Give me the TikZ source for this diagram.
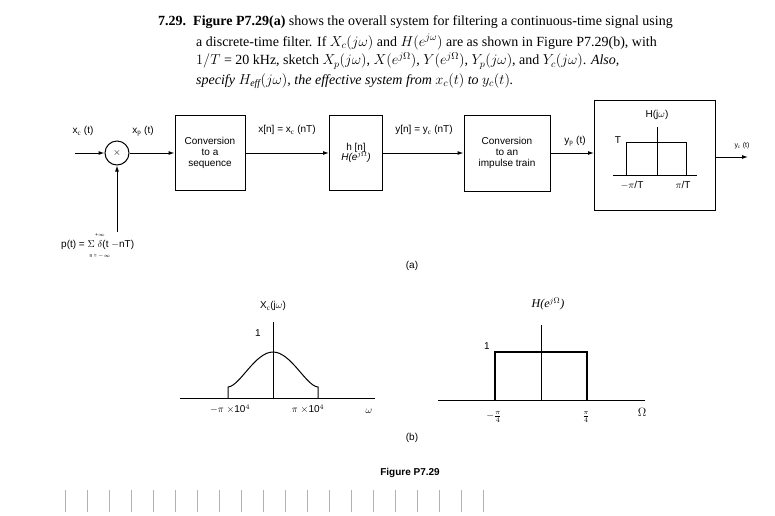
\documentclass[tikz,border=0pt]{standalone}
\usepackage{fontspec}
\setmainfont{Liberation Serif}
\setsansfont{Liberation Sans}
\usetikzlibrary{arrows.meta}
\begin{document}
\begin{tikzpicture}[x=1pt,y=-1pt,
  blk/.style={draw,line width=1pt,font=\sffamily\fontsize{10}{11}\selectfont,align=center,inner sep=0pt},
  lbl/.style={font=\sffamily\fontsize{10}{12}\selectfont,inner sep=1pt},
  sig/.style={line width=1pt,-{Latex[length=6pt,width=4pt]}},
  ax/.style={line width=0.6pt}]
\useasboundingbox (0,0) rectangle (775,515);
% header
\node[anchor=west,inner sep=0,font=\fontsize{14}{16}\selectfont] (h1) at (158,22) {\textbf{7.29.\ \ Figure P7.29(a)} shows the overall system for filtering a continuous-time signal using};
\node[anchor=west,inner sep=0,font=\fontsize{14}{16}\selectfont] (h2) at (196,42) {a discrete-time filter. If $X_c(j\omega)$ and $H(e^{j\omega})$ are as shown in Figure P7.29(b), with};
\node[anchor=west,inner sep=0,font=\fontsize{14}{16}\selectfont] (h3) at (196,61) {$1/T$ = 20 kHz, sketch $X_p(j\omega)$, $X(e^{j\Omega})$, $Y(e^{j\Omega})$, $Y_p(j\omega)$, and $Y_c(j\omega)$. \textit{Also,}};
\node[anchor=west,inner sep=0,font=\fontsize{14}{16}\selectfont\itshape] (h4) at (196,81) {specify $H_{\mathit{eff}}(j\omega)$, the effective system from $x_c(t)$ to $y_c(t)$.};
% blocks
\node[draw,circle,minimum size=24pt,inner sep=0,line width=1pt] (m) at (117,153) {$\times$};
\node[blk,minimum width=70pt,minimum height=75pt] (b1) at (210,153) {Conversion\\to a\\sequence};
\node[blk,minimum width=53pt,minimum height=75pt] (b2) at (356,153) {h [n]\\[-1pt]\itshape H(e$^{j\Omega}$)};
\node[blk,minimum width=86pt,minimum height=76pt] (b3) at (507,153) {Conversion\\to an\\impulse train};
\node[blk,minimum width=121pt,minimum height=110pt] (b4) at (655,155) {};
\coordinate (in) at (75,153);
\coordinate (out) at (748,157);
\coordinate (pb) at (117,232);
\draw[sig] (in) -- (m);
\draw[sig] (m) -- (b1);
\draw[sig] (b1) -- (b2);
\draw[sig] (b2) -- (b3);
\draw[sig] (b3.east) -- (b3.east -| b4.west);
\draw[sig] (b4.east |- out) -- (out);
\draw[sig] (pb) -- (m);
\node[lbl] (l1) at (83,131) {x$_\mathrm{c}$ (t)};
\node[lbl] (l2) at (143,131) {x$_\mathrm{p}$ (t)};
\node[lbl] (l3) at (287,130) {x[n] = x$_\mathrm{c}$ (nT)};
\node[lbl] (l4) at (424,130) {y[n] = y$_\mathrm{c}$ (nT)};
\node[lbl] (l5) at (575,141) {y$_\mathrm{p}$ (t)};
\node[lbl,font=\sffamily\scriptsize] (l6) at (742,146) {y$_\mathrm{c}$ (t)};
\node[lbl,anchor=west] (pt) at (60,245) {p(t) = $\Sigma$ $\delta$(t $-$nT)};
\node[lbl,font=\sffamily\tiny] (up) at (100,235) {+$\infty$};
\node[lbl,font=\sffamily\tiny] (lo) at (100,256) {n = $-\infty$};
% H(jw) inside box4
\draw[ax] (613,175) -- (697,175);
\draw[ax] (657,127) -- (657,175);
\draw[line width=1pt] (626,175) -- (626,142) -- (686,142) -- (686,175);
\node[lbl] (hj) at (657,115) {H(j$\omega$)};
\node[lbl] (tt) at (618,140) {T};
\node[lbl] (m1) at (632,185) {$-\pi$/T};
\node[lbl] (m2) at (683,185) {$\pi$/T};
\node[lbl] (a) at (412,266) {(a)};
% left plot
\draw[ax] (180,398) -- (375,398);
\draw[ax] (273,322) -- (273,398);
\draw[line width=1pt] (228,398) -- (228,387) .. controls (240,386) and (255,352) .. (273,352) .. controls (291,352) and (306,386) .. (318,387) -- (318,398);
\node[lbl] (xc) at (273,306) {X$_\mathrm{c}$(j$\omega$)};
\node[lbl] (one1) at (258,333) {1};
\node[lbl] (lm) at (230,409) {$-\pi$ $\times$10$^4$};
\node[lbl] (lp) at (308,409) {$\pi$ $\times$10$^4$};
\node[lbl] (w) at (369,411) {$\omega$};
% right plot
\draw[ax] (438,400) -- (645,400);
\draw[ax] (541,325) -- (541,400);
\draw[line width=1.2pt] (495,400) -- (495,352) -- (587,352) -- (587,400);
\node[lbl,font=\itshape\large] (he) at (548,304) {H(e$^{j\Omega}$)};
\node[lbl] (one2) at (487,346) {1};
\node[lbl] (rm) at (494,417) {$-\frac{\pi}{4}$};
\node[lbl] (rp) at (586,417) {$\frac{\pi}{4}$};
\node[lbl,font=\large] (om) at (642,412) {$\Omega$};
\node[lbl] (b) at (412,438) {(b)};
\node[font=\sffamily\bfseries] (fig) at (410,473) {Figure P7.29};
% ruler ticks
\foreach \i in {0,...,19} \draw[gray!60,line width=0.8pt] (65+22*\i,490) -- (65+22*\i,512);
\end{tikzpicture}
\end{document}
